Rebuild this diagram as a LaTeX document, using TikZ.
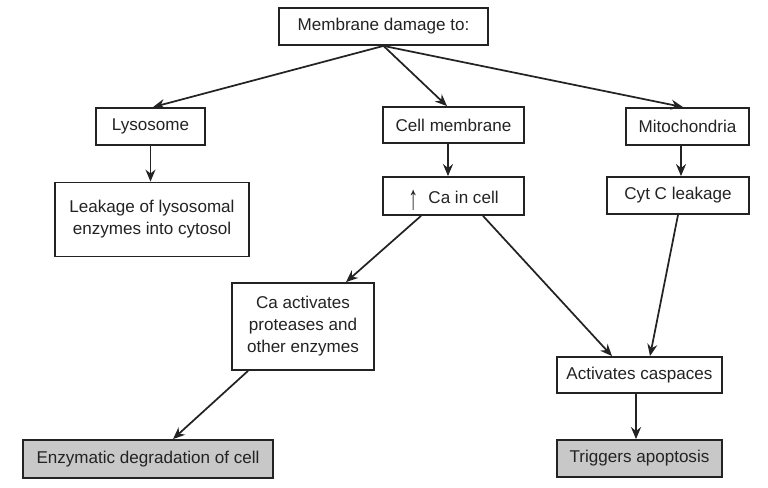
\documentclass[tikz,border=0pt]{standalone}
\usepackage{fontspec}
\setmainfont{Liberation Sans}
\usetikzlibrary{arrows.meta,calc}
\definecolor{boxgray}{RGB}{200,200,200}
\definecolor{inkgray}{RGB}{35,35,35}
\tikzset{
  box/.style={draw=inkgray,line width=1.35pt,fill=white,text=inkgray,
    font=\fontsize{12.8}{16.5}\selectfont,align=center,inner sep=0pt},
  endbox/.style={box,fill=boxgray},
  arr/.style={draw=inkgray,line width=1.3pt,-{Stealth[length=9pt,width=7.5pt]}}
}
\begin{document}
\begin{tikzpicture}[x=0.75pt,y=-0.75pt]
\useasboundingbox (0,0) rectangle (768,488);

% top
\node[box,minimum width=156.75pt,minimum height=27.75pt] (dmg) at (383.5,26.5) {Membrane damage to:};

% targets of the damage
\node[box,minimum width=81.75pt,minimum height=27.75pt] (lys) at (150.5,126.5) {Lysosome};
\node[box,minimum width=105.75pt,minimum height=27pt] (cm) at (453.5,125) {Cell membrane};
\node[box,minimum width=92.25pt,minimum height=27.75pt] (mito) at (687.5,126.5) {Mitochondria};

% consequences
\node[box,minimum width=145.5pt,minimum height=55.5pt] (leak) at (152,219.5) {Leakage of lysosomal\\enzymes into cytosol};
\node[box,minimum width=105.75pt,minimum height=28.5pt] (ca) at (453.5,196) {\raisebox{-0.35em}[0.9em][0pt]{\scalebox{1.15}[2]{↑}}\hspace{0.6em}Ca in cell};
\node[box,minimum width=106.5pt,minimum height=27.75pt] (cyt) at (678,195.5) {Cyt C leakage};
\node[box,minimum width=106.5pt,minimum height=65.25pt] (act) at (303,326.5) {Ca activates\\proteases and\\other enzymes};
\node[box,minimum width=123.75pt,minimum height=27pt] (casp) at (639.5,375) {Activates caspaces};

% end results
\node[endbox,minimum width=187.5pt,minimum height=28.5pt] (enz) at (148,459) {Enzymatic degradation of cell};
\node[endbox,minimum width=123.75pt,minimum height=27.75pt] (trig) at (639.5,458.5) {Triggers apoptosis};

% arrows
\draw[arr] (dmg.south) -- ($(lys.north)+(2.5,0)$);
\draw[arr] (dmg.south) -- ($(cm.north)+(-6.5,0)$);
\draw[arr] (dmg.south) -- ($(mito.north)+(-4.5,0)$);

\draw[arr] (lys.south) -- (lys.south |- leak.north);
\draw[arr] ($(cm.south)+(-5.5,0)$) -- ($(ca.north)+(-5.5,0)$);
\draw[arr] ($(mito.south)+(-6.5,0)$) -- ($(cyt.north)+(3,0)$);

\draw[arr] ($(ca.south)+(-32.5,0)$) -- ($(act.north)+(43,0)$);
\draw[arr] ($(ca.south)+(29.5,0)$) -- ($(casp.north)+(-27.5,0)$);
\draw[arr] (cyt.south) -- ($(casp.north)+(10.5,0)$);
\draw[arr] ($(act.south)+(-55,0)$) -- ($(enz.north)+(25,0)$);
\draw[arr] ($(casp.south)+(-3.5,0)$) -- ($(trig.north)+(-3.5,0)$);
\end{tikzpicture}
\end{document}
